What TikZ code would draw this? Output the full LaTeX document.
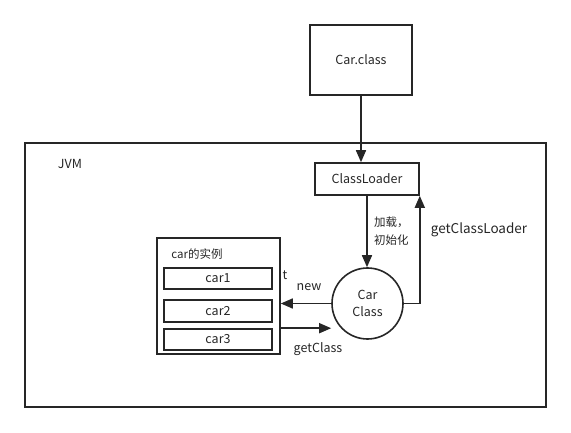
\documentclass[tikz,border=0pt]{standalone}
\usepackage{fontspec}
\setmainfont{Noto Sans CJK SC}
\usetikzlibrary{arrows.meta}

\begin{document}
\begin{tikzpicture}[x=1pt, y=-1pt, >={Triangle[length=12pt, width=10pt]},
  font=\fontsize{12.5}{17}\selectfont, line width=1.6pt, color=black!85]
\useasboundingbox (0, 0) rectangle (571, 433);

\node[draw, minimum width=102pt, minimum height=70pt] (carclass) at (361, 60) {Car.class};

\node[draw, minimum width=521pt, minimum height=264pt] (jvm) at (285.5, 275) {};
\node (jvmlabel) at (70, 164) {JVM};

\node[draw, minimum width=104pt, minimum height=32pt] (loader) at (367, 179) {ClassLoader};

\node[draw, circle, minimum size=71pt, align=center, inner sep=0pt] (carcls) at (367.5, 303.5) {Car\\Class};

\node[draw, minimum width=123pt, minimum height=116pt] (inst) at (218.5, 296) {};
\node[font=\fontsize{11.5}{14}\selectfont] (title) at (197, 254) {car的实例};
\node[draw, minimum width=108pt, minimum height=21pt] (car1) at (218, 278.5) {car1};
\node[draw, minimum width=108pt, minimum height=22pt] (car2) at (218, 311) {car2};
\node[draw, minimum width=108pt, minimum height=21pt] (car3) at (218, 339.5) {car3};
\node (t) at (285, 275) {t};

\draw[->] (carclass.south) -- (carclass.south |- loader.north);

\draw[->] (loader.south) -- (loader.south |- carcls.north) node[midway, right, xshift=3pt, align=left, font=\fontsize{11.5}{18}\selectfont]{加载，\\初始化};

\draw[->] (carcls.east) -| (loader.south east);
\node[font=\fontsize{13.5}{16}\selectfont] (getloader) at (479, 230) {getClassLoader};

\draw[->] (carcls.west) -- (carcls.west -| inst.east) node[midway, xshift=3pt, yshift=16pt]{new};

\draw[->] (inst.east |- car3.north) -- (carcls.west |- car3.north) node[midway, xshift=12pt, yshift=-21pt]{getClass};

\end{tikzpicture}
\end{document}
